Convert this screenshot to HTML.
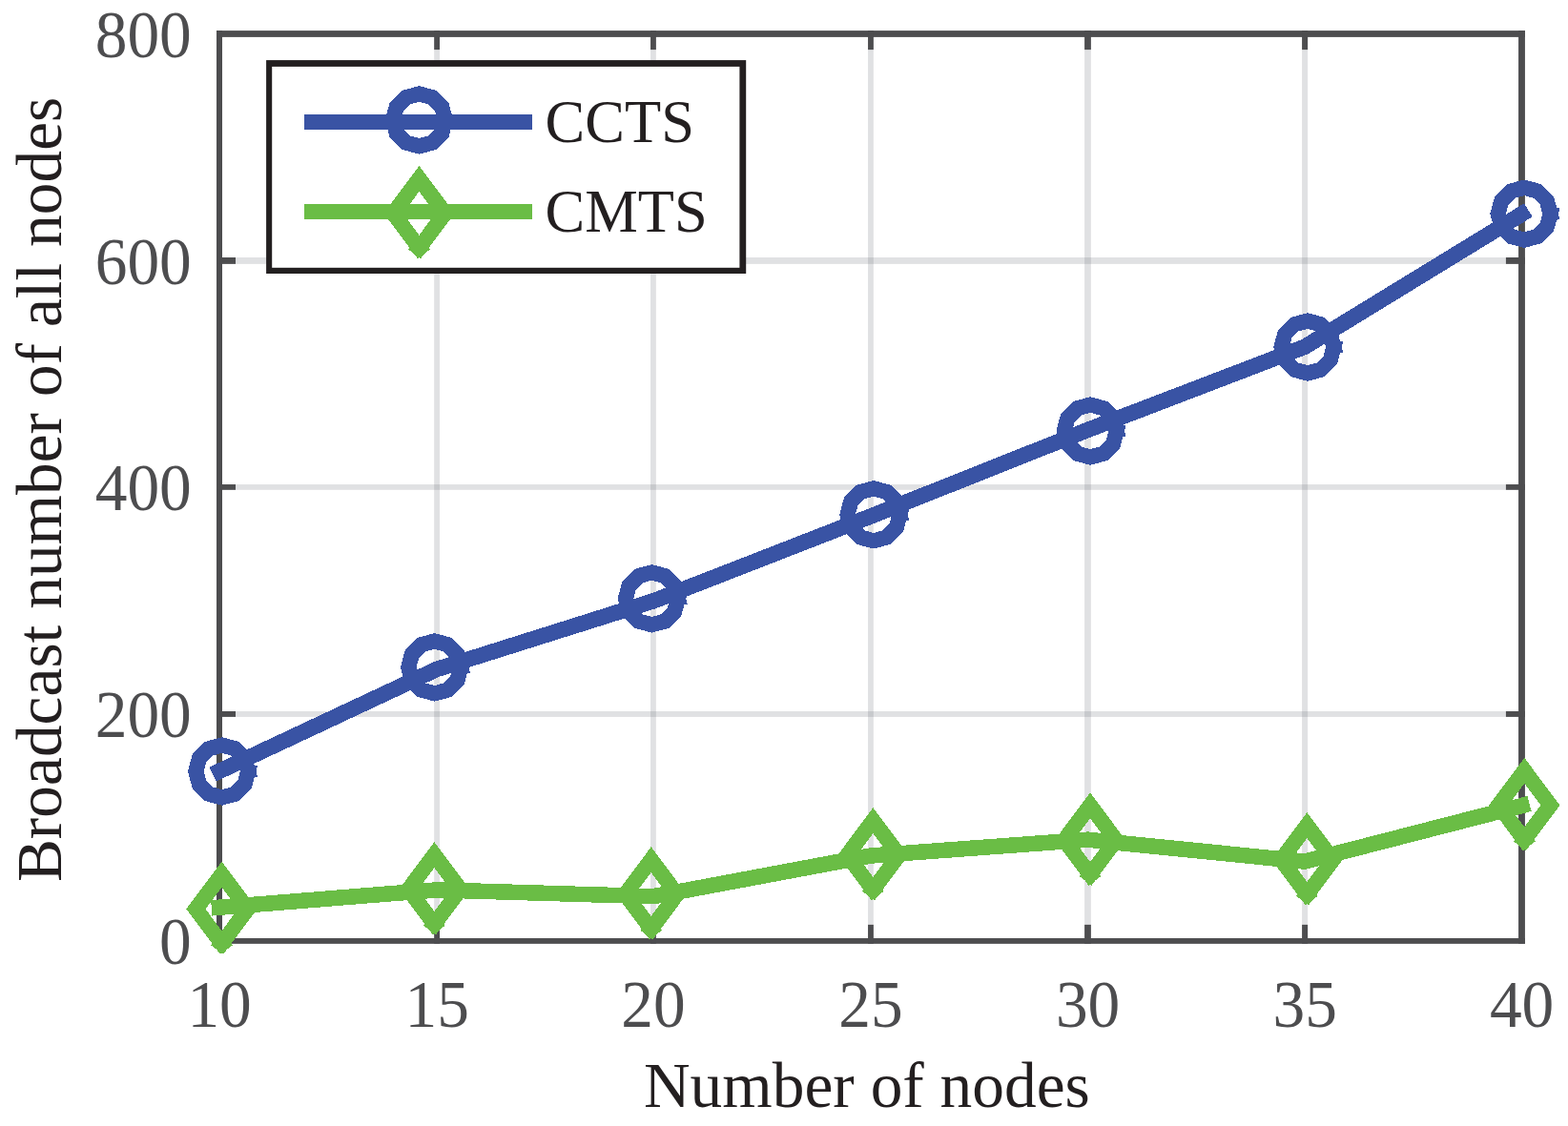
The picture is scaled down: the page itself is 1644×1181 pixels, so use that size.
<!DOCTYPE html>
<html lang="en"><head><meta charset="utf-8"><title>Broadcast number of all nodes</title>
<style>html,body{margin:0;padding:0;background:#fff}body{width:1644px;height:1181px;overflow:hidden}svg{display:block}text{font-family:"Liberation Serif",serif;font-size:67.4px}.lg{font-size:62.5px}</style>
</head><body>
<svg width="1644" height="1181" viewBox="0 0 1644 1181" role="img" aria-label="Line chart: broadcast number of all nodes versus number of nodes for CCTS and CMTS">
<rect width="1644" height="1181" fill="#fff"/>
<g fill="rgb(100,105,115)" fill-opacity="0.2">
<rect x="455.2" y="38.9" width="5.8" height="945.13"/>
<rect x="682.06" y="38.9" width="5.79" height="945.13"/>
<rect x="910.06" y="38.9" width="5.79" height="945.13"/>
<rect x="1137.1" y="38.9" width="6.75" height="945.13"/>
<rect x="1365.1" y="38.9" width="6" height="945.13"/>
<rect x="233" y="746" width="1359.06" height="5.9"/>
<rect x="233" y="508.05" width="1359.06" height="5.75"/>
<rect x="233" y="270" width="1359.06" height="6.86"/>
</g>
<g fill="#4d4d4f">
<rect x="227" y="32.1" width="6" height="957.77"/>
<rect x="1592.06" y="32.1" width="6.86" height="957.77"/>
<rect x="227" y="32.1" width="1371.92" height="6.8"/>
<rect x="227" y="984.03" width="1371.92" height="5.84"/>
<rect x="455.2" y="32.1" width="5.8" height="20"/>
<rect x="455.2" y="969.87" width="5.8" height="20"/>
<rect x="682.06" y="32.1" width="5.79" height="20"/>
<rect x="682.06" y="969.87" width="5.79" height="20"/>
<rect x="910.06" y="32.1" width="5.79" height="20"/>
<rect x="910.06" y="969.87" width="5.79" height="20"/>
<rect x="1137.1" y="32.1" width="6.75" height="20"/>
<rect x="1137.1" y="969.87" width="6.75" height="20"/>
<rect x="1365.1" y="32.1" width="6" height="20"/>
<rect x="1365.1" y="969.87" width="6" height="20"/>
<rect x="227" y="746" width="20" height="5.9"/>
<rect x="1578.92" y="746" width="20" height="5.9"/>
<rect x="227" y="508.05" width="20" height="5.75"/>
<rect x="1578.92" y="508.05" width="20" height="5.75"/>
<rect x="227" y="270" width="20" height="6.86"/>
<rect x="1578.92" y="270" width="20" height="6.86"/>
</g>
<g fill="#4d4d4f">
<text transform="translate(230.1,1077.2) scale(1,1.022)" text-anchor="middle">10</text>
<text transform="translate(458.2,1077.2) scale(1,1.022)" text-anchor="middle">15</text>
<text transform="translate(685.05,1077.2) scale(1,1.022)" text-anchor="middle">20</text>
<text transform="translate(913.05,1077.2) scale(1,1.022)" text-anchor="middle">25</text>
<text transform="translate(1140.6,1077.2) scale(1,1.022)" text-anchor="middle">30</text>
<text transform="translate(1368.2,1077.2) scale(1,1.022)" text-anchor="middle">35</text>
<text transform="translate(1595.6,1077.2) scale(1,1.022)" text-anchor="middle">40</text>
<text transform="translate(200.8,1011.05) scale(1,1.022)" text-anchor="end">0</text>
<text transform="translate(200.8,773.05) scale(1,1.022)" text-anchor="end">200</text>
<text transform="translate(200.8,535) scale(1,1.022)" text-anchor="end">400</text>
<text transform="translate(200.8,297.5) scale(1,1.022)" text-anchor="end">600</text>
<text transform="translate(200.8,59.6) scale(1,1.022)" text-anchor="end">800</text>
</g>
<g fill="#231f20">
<text x="908.9" y="1160.5" text-anchor="middle">Number of nodes</text>
<text transform="translate(64.3,513.4) rotate(-90)" text-anchor="middle">Broadcast number of all nodes</text>
</g>
<g shape-rendering="crispEdges">
<polyline points="230.6,808.6 458.1,701.9 684.95,630.4 912.95,541.5 1140.5,450.9 1368.1,363.7 1595.3,224.6" fill="none" stroke="#3953a4" stroke-width="16.5" stroke-linejoin="miter" stroke-linecap="square"/>
<polyline points="260.15,809 256.47,795.27 246.42,785.23 232.7,781.55 218.97,785.23 208.93,795.27 205.25,809 208.93,822.73 218.97,832.77 232.7,836.45 246.42,832.77 256.47,822.73 260.15,809" fill="none" stroke="#3953a4" stroke-width="16.1" stroke-linejoin="miter" stroke-linecap="square"/>
<polyline points="483.15,699.9 479.47,686.17 469.43,676.13 455.7,672.45 441.98,676.13 431.93,686.17 428.25,699.9 431.93,713.62 441.97,723.67 455.7,727.35 469.43,723.67 479.47,713.62 483.15,699.9" fill="none" stroke="#3953a4" stroke-width="16.1" stroke-linejoin="miter" stroke-linecap="square"/>
<polyline points="710.85,627.8 707.17,614.07 697.12,604.03 683.4,600.35 669.67,604.03 659.63,614.07 655.95,627.8 659.63,641.52 669.67,651.57 683.4,655.25 697.12,651.57 707.17,641.52 710.85,627.8" fill="none" stroke="#3953a4" stroke-width="16.1" stroke-linejoin="miter" stroke-linecap="square"/>
<polyline points="943.45,539.8 939.77,526.07 929.73,516.03 916,512.35 902.27,516.03 892.23,526.07 888.55,539.8 892.23,553.52 902.27,563.57 916,567.25 929.73,563.57 939.77,553.52 943.45,539.8" fill="none" stroke="#3953a4" stroke-width="16.1" stroke-linejoin="miter" stroke-linecap="square"/>
<polyline points="1170.65,452 1166.97,438.27 1156.92,428.23 1143.2,424.55 1129.48,428.23 1119.43,438.27 1115.75,452 1119.43,465.73 1129.48,475.77 1143.2,479.45 1156.92,475.77 1166.97,465.73 1170.65,452" fill="none" stroke="#3953a4" stroke-width="16.1" stroke-linejoin="miter" stroke-linecap="square"/>
<polyline points="1398.45,364 1394.77,350.27 1384.72,340.23 1371,336.55 1357.28,340.23 1347.23,350.27 1343.55,364 1347.23,377.73 1357.28,387.77 1371,391.45 1384.72,387.77 1394.77,377.73 1398.45,364" fill="none" stroke="#3953a4" stroke-width="16.1" stroke-linejoin="miter" stroke-linecap="square"/>
<polyline points="1625.55,224.2 1621.87,210.47 1611.82,200.43 1598.1,196.75 1584.38,200.43 1574.33,210.47 1570.65,224.2 1574.33,237.92 1584.38,247.97 1598.1,251.65 1611.82,247.97 1621.87,237.93 1625.55,224.2" fill="none" stroke="#3953a4" stroke-width="16.1" stroke-linejoin="miter" stroke-linecap="square"/>
<polyline points="230,951.7 458.1,933.4 684.95,940.2 912.95,897.5 1140.5,880.7 1368.1,903.6 1595.6,845" fill="none" stroke="#6abd45" stroke-width="16.5" stroke-linejoin="miter" stroke-linecap="square"/>
<polyline points="232.5,989.7 259.6,953.4 232.5,917.1 205.4,953.4 232.5,989.7" fill="none" stroke="#6abd45" stroke-width="16.1" stroke-linejoin="miter" stroke-miterlimit="10" stroke-linecap="square"/>
<polyline points="455.4,969.2 482.5,932.9 455.4,896.6 428.3,932.9 455.4,969.2" fill="none" stroke="#6abd45" stroke-width="16.1" stroke-linejoin="miter" stroke-miterlimit="10" stroke-linecap="square"/>
<polyline points="682.7,974.3 709.8,938 682.7,901.7 655.6,938 682.7,974.3" fill="none" stroke="#6abd45" stroke-width="16.1" stroke-linejoin="miter" stroke-miterlimit="10" stroke-linecap="square"/>
<polyline points="915.4,933.2 942.5,896.9 915.4,860.6 888.3,896.9 915.4,933.2" fill="none" stroke="#6abd45" stroke-width="16.1" stroke-linejoin="miter" stroke-miterlimit="10" stroke-linecap="square"/>
<polyline points="1143,917.4 1170.1,881.1 1143,844.8 1115.9,881.1 1143,917.4" fill="none" stroke="#6abd45" stroke-width="16.1" stroke-linejoin="miter" stroke-miterlimit="10" stroke-linecap="square"/>
<polyline points="1370.4,938.2 1397.5,901.9 1370.4,865.6 1343.3,901.9 1370.4,938.2" fill="none" stroke="#6abd45" stroke-width="16.1" stroke-linejoin="miter" stroke-miterlimit="10" stroke-linecap="square"/>
<polyline points="1598.3,880.9 1625.4,844.6 1598.3,808.3 1571.2,844.6 1598.3,880.9" fill="none" stroke="#6abd45" stroke-width="16.1" stroke-linejoin="miter" stroke-miterlimit="10" stroke-linecap="square"/>
</g>
<rect x="279.1" y="63.1" width="503.1" height="223.9" fill="#231f20"/>
<rect x="285.2" y="69.9" width="490.2" height="210.9" fill="#fff"/>
<g shape-rendering="crispEdges">
<rect x="319" y="120" width="239" height="16" fill="#3953a4"/>
<polyline points="466.95,125.9 463.27,112.18 453.23,102.13 439.5,98.45 425.77,102.13 415.73,112.18 412.05,125.9 415.73,139.62 425.77,149.67 439.5,153.35 453.23,149.67 463.27,139.63 466.95,125.9" fill="none" stroke="#3953a4" stroke-width="16.1" stroke-linejoin="miter" stroke-linecap="square"/>
<rect x="319" y="214" width="239" height="16" fill="#6abd45"/>
<polyline points="439.5,260 466.6,223.7 439.5,187.4 412.4,223.7 439.5,260" fill="none" stroke="#6abd45" stroke-width="16.1" stroke-linejoin="miter" stroke-miterlimit="10" stroke-linecap="square"/>
</g>
<g fill="#231f20" class="lg">
<text class="lg" x="571.6" y="149.4">CCTS</text>
<text class="lg" x="571.6" y="243.4">CMTS</text>
</g>
</svg>
</body></html>
